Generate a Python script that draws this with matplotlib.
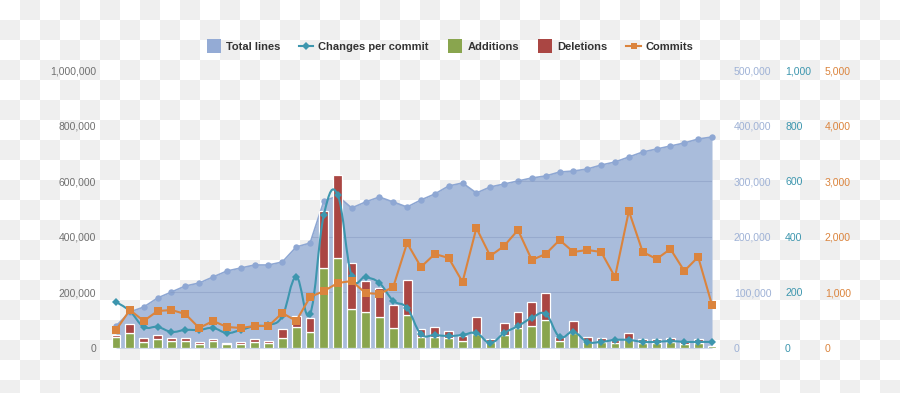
import numpy as np
import matplotlib
matplotlib.use('Agg')
import matplotlib.pyplot as plt
from matplotlib.path import Path
from matplotlib.patches import PathPatch
from matplotlib.lines import Line2D
from matplotlib.colors import ListedColormap
from matplotlib.ticker import FuncFormatter

# Data (one value per period)
total_lines = [39600, 64700, 73700, 89900, 100700, 111500, 116900, 127700, 138500, 143900,
               149300, 149300, 154700, 181700, 188800, 264400, 273400, 251800, 262600, 271600,
               262600, 253600, 266200, 277000, 291400, 296800, 278800, 289600, 295000, 300400,
               305800, 309400, 316500, 318300, 321900, 329100, 334500, 343500, 352500, 357900,
               363300, 368700, 375900, 379500]
changes_per_commit = [165, 133, 76, 76, 58, 65, 65, 72, 54, 65,
                      79, 83, 115, 255, 122, 480, 550, 259, 255, 234,
                      170, 144, 50, 47, 43, 47, 54, 18, 54, 79,
                      108, 122, 40, 58, 22, 22, 29, 29, 22, 22,
                      25, 22, 22, 22]
additions = [40000, 52800, 22700, 31300, 25200, 25200, 13300, 25200, 13300, 13300,
             20500, 16900, 37000, 76600, 58600, 286700, 322600, 140300, 128400, 110400,
             73700, 118700, 40600, 40600, 37000, 25200, 50400, 20500, 47800, 71900,
             78000, 100700, 25200, 52900, 20500, 20500, 19100, 31300, 19100, 16900,
             20500, 13300, 19100, 8300]
deletions = [8000, 32400, 12200, 14400, 11900, 11900, 9400, 6100, 3000, 9400,
             11900, 9400, 31300, 39600, 50400, 207200, 301400, 166500, 112600, 106500,
             80900, 125900, 27700, 33800, 24100, 19100, 62200, 11900, 41000, 58600,
             86300, 97100, 15500, 44200, 20100, 14400, 9700, 23700, 13300, 14400,
             14400, 12900, 12200, 0]
commits = [324, 683, 486, 665, 683, 612, 360, 486, 378, 360,
           396, 396, 630, 486, 917, 1025, 1169, 1205, 989, 971,
           1097, 1888, 1457, 1691, 1619, 1187, 2158, 1655, 1835, 2122,
           1583, 1691, 1942, 1727, 1763, 1727, 1277, 2464, 1727, 1601,
           1781, 1385, 1637, 773]

legend_labels = ['Total lines', 'Changes per commit', 'Additions', 'Deletions', 'Commits']

C_AREA = '#a9bcdb'
C_TOTAL = '#8ea7d3'
C_TEAL = '#3d96ae'
C_GREEN = '#89a54e'
C_RED = '#aa4643'
C_ORANGE = '#db843d'


def fmt(v, pos):
    return f'{int(round(v)):,}'


def spline_path(xs, ys):
    # Highcharts-style spline: control points from neighbours, smoothing 1.5
    smoothing, denom = 1.5, 2.5
    n = len(xs)
    left = [(xs[i], ys[i]) for i in range(n)]
    right = [(xs[i], ys[i]) for i in range(n)]
    for i in range(1, n - 1):
        lcx = (smoothing * xs[i] + xs[i - 1]) / denom
        lcy = (smoothing * ys[i] + ys[i - 1]) / denom
        rcx = (smoothing * xs[i] + xs[i + 1]) / denom
        rcy = (smoothing * ys[i] + ys[i + 1]) / denom
        corr = ((rcy - lcy) * (rcx - xs[i])) / (rcx - lcx) + ys[i] - rcy
        left[i] = (lcx, lcy + corr)
        right[i] = (rcx, rcy + corr)
    verts = [(xs[0], ys[0])]
    codes = [Path.MOVETO]
    for i in range(1, n):
        verts += [right[i - 1], left[i], (xs[i], ys[i])]
        codes += [Path.CURVE4] * 3
    return Path(verts, codes)


fig = plt.figure(figsize=(9, 3.93), dpi=100)

# checkerboard backdrop of the reference image
bg = fig.add_axes([0, 0, 1, 1], zorder=-5)
ii, jj = np.indices((393, 900))
bg.imshow((ii // 20 + jj // 20) % 2, cmap=ListedColormap(['#ffffff', '#efefef']),
          aspect='auto', interpolation='nearest')
bg.axis('off')

rect = [107 / 900, 45 / 393, 615 / 900, 278 / 393]
x = np.arange(len(total_lines))
xlim = (-0.65, len(x) - 1 + 0.72)

ax_total = fig.add_axes(rect, zorder=1)
ax_bars = fig.add_axes(rect, zorder=2)
ax_cpc = fig.add_axes(rect, zorder=3)
ax_com = fig.add_axes(rect, zorder=4)

for ax in (ax_total, ax_bars, ax_cpc, ax_com):
    ax.patch.set_visible(False)
    for s in ax.spines.values():
        s.set_visible(False)
    ax.set_xlim(*xlim)
    ax.set_xticks([])
    ax.yaxis.set_major_formatter(FuncFormatter(fmt))

# total lines area
poly = ax_total.fill_between(x, total_lines, 0, color=C_AREA, lw=0)
ax_total.plot(x, total_lines, color=C_TOTAL, lw=1.2, marker='o', ms=4.6,
              markeredgewidth=0)
ax_total.set_ylim(0, 500000)
ax_total.set_yticks(np.arange(0, 500001, 100000))
for yv in np.arange(100000, 500001, 100000):
    gl = ax_total.axhline(yv, color='#8296bd', lw=0.8, alpha=0.45)
    gl.set_clip_path(poly.get_paths()[0], ax_total.transData)
ax_total.yaxis.tick_right()
ax_total.tick_params(axis='y', length=0, pad=8.6, labelsize=7.6, labelcolor='#9fb2d6')

# additions / deletions stacked bars
ax_bars.bar(x, additions, width=0.64, color=C_GREEN, edgecolor='white', lw=0.9)
ax_bars.bar(x, deletions, width=0.64, bottom=additions, color=C_RED,
            edgecolor='white', lw=0.9)
ax_bars.set_ylim(0, 1000000)
ax_bars.set_yticks(np.arange(0, 1000001, 200000))
ax_bars.tick_params(axis='y', length=0, pad=7.9, labelsize=7.5, labelcolor='#707070')

# changes per commit (spline)
ax_cpc.add_patch(PathPatch(spline_path(x, changes_per_commit), fill=False,
                           edgecolor=C_TEAL, lw=1.5))
ax_cpc.plot(x, changes_per_commit, ls='none', marker='D', ms=3.6, color=C_TEAL,
            markeredgewidth=0)
ax_cpc.set_ylim(0, 1000)
ax_cpc.set_yticks(np.arange(0, 1001, 200))
ax_cpc.yaxis.tick_right()
ax_cpc.tick_params(axis='y', length=0, pad=45.4, labelsize=7.6, labelcolor=C_TEAL)

# commits
ax_com.plot(x, commits, color=C_ORANGE, lw=1.5, marker='s', ms=6,
            markeredgewidth=0)
ax_com.set_ylim(0, 5000)
ax_com.set_yticks(np.arange(0, 5001, 1000))
ax_com.yaxis.tick_right()
ax_com.tick_params(axis='y', length=0, pad=74, labelsize=7.6, labelcolor=C_ORANGE)

for ax in (ax_total, ax_cpc, ax_com):
    for t in ax.get_yticklabels():
        t.set_fontfamily('Liberation Sans')
for t in ax_bars.get_yticklabels():
    t.set_fontfamily('Liberation Sans')

handles = [
    Line2D([], [], ls='none', marker='s', ms=9.5, color='#94abd5', markeredgewidth=0),
    Line2D([], [], color=C_TEAL, lw=1.5, marker='D', ms=3.6, markeredgewidth=0),
    Line2D([], [], ls='none', marker='s', ms=9.5, color=C_GREEN, markeredgewidth=0),
    Line2D([], [], ls='none', marker='s', ms=9.5, color=C_RED, markeredgewidth=0),
    Line2D([], [], color=C_ORANGE, lw=1.5, marker='s', ms=5, markeredgewidth=0),
]
fig.legend(handles, legend_labels, loc='center', bbox_to_anchor=(450 / 900, 1 - 47 / 393),
           ncol=5, frameon=False, handlelength=1.3, handletextpad=0.45,
           columnspacing=1.7, labelcolor='#333333',
           prop={'family': 'Liberation Sans', 'weight': 'bold', 'size': 8})

fig.savefig('out.png', dpi=100)
